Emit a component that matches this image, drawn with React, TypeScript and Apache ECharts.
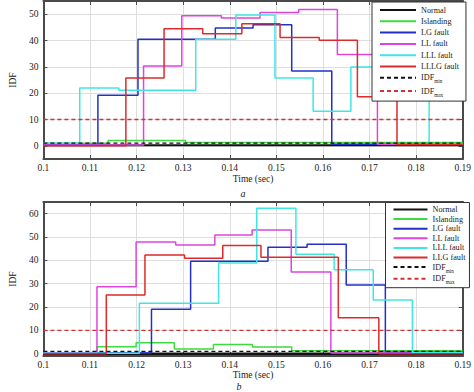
import React, { useEffect, useRef } from 'react';
import * as echarts from 'echarts';

const FONT = '"Liberation Serif", "Times New Roman", serif';

// x axis (time, s)
const X_MIN = 0.1;
const X_MAX = 0.19;
const X_STEP = 0.01;

// y tick labels
const yTicksA = [0, 10, 20, 30, 40, 50];
const yTicksB = [0, 10, 20, 30, 40, 50, 60];

// thresholds
const IDF_MIN = 1;
const IDF_MAX = 10;

// legend names
const namesA = ['Normal', 'Islanding', 'LG fault', 'LL fault', 'LLL fault', 'LLLG fault', 'IDFmin', 'IDFmax'];
const namesB = ['Normal', 'Islanding', 'LG fault', 'LL fault', 'LLL fault', 'LLG fault', 'IDFmin', 'IDFmax'];

// ---- chart a : step change times and values ----
const aNormalT = [0.1];
const aNormalV = [0.2];
const aIslandT = [0.1, 0.1139, 0.1305];
const aIslandV = [1.0, 2.0, 1.3];
const aLGT = [0.1, 0.1117, 0.1203, 0.1369, 0.145, 0.1533, 0.1619];
const aLGV = [0.3, 19.2, 40.5, 44.7, 46.0, 28.4, 0.6];
const aLLT = [0.1, 0.1215, 0.1297, 0.1382, 0.1465, 0.1548, 0.1631, 0.1717];
const aLLV = [0.3, 30.3, 49.4, 48.5, 50.6, 51.8, 34.7, 0.6];
const aLLLT = [0.1, 0.1078, 0.1162, 0.1327, 0.1413, 0.1497, 0.1579, 0.166, 0.1828];
const aLLLV = [1.0, 22.0, 21.1, 40.5, 49.7, 25.8, 13.1, 29.9, 0.6];
const aLLLGT = [0.1, 0.1177, 0.1259, 0.1342, 0.1426, 0.1508, 0.1592, 0.1674, 0.1759];
const aLLLGV = [0.0, 25.8, 44.5, 42.6, 46.4, 41.1, 40.1, 18.6, 0.4];

// ---- chart b ----
const bNormalT = [0.1];
const bNormalV = [0.0];
const bIslandT = [0.1, 0.1115, 0.1199, 0.1281, 0.1365, 0.1449, 0.1533];
const bIslandV = [0.3, 3.0, 4.7, 2.0, 3.9, 2.9, 1.3];
const bLGT = [0.1, 0.1232, 0.1316, 0.1482, 0.1566, 0.165, 0.1734];
const bLGV = [0.3, 19.0, 39.6, 45.6, 46.9, 29.4, 0.6];
const bLLT = [0.1, 0.1115, 0.1199, 0.1284, 0.1368, 0.1448, 0.1532, 0.1617];
const bLLV = [0.3, 28.7, 47.9, 46.6, 50.9, 53.0, 35.0, 0.3];
const bLLLT = [0.1, 0.1206, 0.1376, 0.1458, 0.1542, 0.1624, 0.1708, 0.1792];
const bLLLV = [0.2, 21.6, 38.9, 62.3, 42.6, 36.0, 23.0, 0.4];
const bLLGT = [0.1, 0.1135, 0.1218, 0.1303, 0.1385, 0.1467, 0.1633, 0.172];
const bLLGV = [0.0, 25.1, 42.3, 40.9, 46.4, 41.3, 15.4, 0.0];

const COLORS = {
  normal: '#111111',
  island: '#3ddc3d',
  lg: '#2230c8',
  ll: '#de45de',
  lll: '#40e6e6',
  lllg: '#dd2a2a',
  min: '#111111',
  max: '#cc3333',
};

function steps(times: number[], values: number[]) {
  const pts = times.map((t, i) => [t, values[i]]);
  pts.push([X_MAX, values[values.length - 1]]);
  return pts;
}

function stepSeries(name: string, times: number[], values: number[], color: string, idx: number, width = 1.5) {
  return {
    type: 'line',
    name,
    xAxisIndex: idx,
    yAxisIndex: idx,
    step: 'end',
    symbol: 'none',
    data: steps(times, values),
    lineStyle: { color, width },
    itemStyle: { color },
  };
}

function threshSeries(name: string, v: number, color: string, idx: number) {
  return {
    type: 'line',
    name,
    xAxisIndex: idx,
    yAxisIndex: idx,
    symbol: 'none',
    data: [[X_MIN, v], [X_MAX, v]],
    lineStyle: { color, width: 1.3, type: [4, 3] },
    itemStyle: { color },
    z: 3,
  };
}

const AXIS_COLOR = '#4a4a4a';

function xAxisDef(gridIndex: number, top: boolean, nameGap: number, labelMargin: number) {
  return {
    type: 'value',
    gridIndex,
    position: top ? 'top' : 'bottom',
    min: X_MIN,
    max: X_MAX,
    interval: X_STEP,
    name: top ? '' : 'Time (sec)',
    nameLocation: 'middle',
    nameGap,
    nameTextStyle: { fontFamily: FONT, fontSize: 9.5, color: '#222' },
    axisLine: { show: true, onZero: false, lineStyle: { color: AXIS_COLOR, width: 2 } },
    axisTick: { show: true, inside: true, length: 4, lineStyle: { color: AXIS_COLOR, width: 1 } },
    axisLabel: {
      show: !top,
      margin: labelMargin,
      fontFamily: FONT,
      fontSize: 9.5,
      color: '#222',
      formatter: (v: number) => String(parseFloat(v.toFixed(2))),
    },
    splitLine: { show: !top, lineStyle: { color: '#dedede', width: 1 } },
  };
}

function yAxisDef(gridIndex: number, right: boolean, min: number, max: number, ticks: number[]) {
  return {
    type: 'value',
    gridIndex,
    position: right ? 'right' : 'left',
    min,
    max,
    name: right ? '' : 'IDF',
    nameLocation: 'middle',
    nameGap: 20,
    nameRotate: 90,
    nameTextStyle: { fontFamily: FONT, fontSize: 9.5, color: '#222' },
    axisLine: { show: true, onZero: false, lineStyle: { color: AXIS_COLOR, width: 2 } },
    axisTick: { show: true, inside: true, length: 4, customValues: ticks, lineStyle: { color: AXIS_COLOR, width: 1 } },
    axisLabel: {
      show: !right,
      margin: 5,
      customValues: ticks,
      fontFamily: FONT,
      fontSize: 9.5,
      color: '#222',
    },
    splitLine: { show: !right, lineStyle: { color: '#dedede', width: 1 } },
  };
}

function legendDef(data: string[], left: number, top: number, itemWidth: number, itemGap: number, padding: number[]) {
  return {
    orient: 'vertical',
    left,
    top,
    data,
    itemWidth,
    itemHeight: 8,
    itemGap,
    padding,
    backgroundColor: '#ffffff',
    borderColor: '#333333',
    borderWidth: 1,
    borderRadius: 0,
    selectedMode: false,
    itemStyle: { color: 'rgba(0,0,0,0)', borderWidth: 0, opacity: 0 },
    textStyle: {
      fontFamily: FONT,
      fontSize: 8.2,
      color: '#222',
      rich: {
        m: { fontFamily: FONT, fontSize: 8.2, color: '#222', lineHeight: 12 },
        s: { fontFamily: FONT, fontSize: 5.2, color: '#222', lineHeight: 6, verticalAlign: 'bottom' },
      },
    },
    formatter: (name: string) =>
      name === 'IDFmin' ? '{m|IDF}{s|min}' : name === 'IDFmax' ? '{m|IDF}{s|max}' : name,
  };
}

export default function App() {
  const ref = useRef<HTMLDivElement>(null);
  useEffect(() => {
    if (!ref.current) return;
    const chart = echarts.init(ref.current, undefined, { renderer: 'svg' });
    chart.setOption({
      animation: false,
      backgroundColor: '#ffffff',
      grid: [
        { left: 27, right: 8, top: 1, height: 158 },
        { left: 27, right: 8, top: 202, height: 154 },
      ],
      xAxis: [
        xAxisDef(0, false, 15, 4),
        xAxisDef(1, false, 14, 3.5),
        xAxisDef(0, true, 0, 0),
        xAxisDef(1, true, 0, 0),
      ],
      yAxis: [
        yAxisDef(0, false, -5, 55, yTicksA),
        yAxisDef(1, false, -1, 65, yTicksB),
        yAxisDef(0, true, -5, 55, yTicksA),
        yAxisDef(1, true, -1, 65, yTicksB),
      ],
      legend: [
        legendDef(namesA, 372, 2, 36, 3.3, [4, 7, 4, 7]),
        legendDef(namesB, 385.5, 202.5, 34, 1.6, [3, 4, 3, 7]),
      ],
      graphic: [
        { type: 'text', x: 243, y: 193, style: { text: 'a', fontFamily: FONT, fontStyle: 'italic', fontSize: 10, fill: '#222', textAlign: 'center', textVerticalAlign: 'middle' } },
        { type: 'text', x: 239, y: 386, style: { text: 'b', fontFamily: FONT, fontStyle: 'italic', fontSize: 10, fill: '#222', textAlign: 'center', textVerticalAlign: 'middle' } },
      ],
      series: [
        stepSeries('Normal', aNormalT, aNormalV, COLORS.normal, 0, 2),
        stepSeries('Islanding', aIslandT, aIslandV, COLORS.island, 0),
        stepSeries('LG fault', aLGT, aLGV, COLORS.lg, 0),
        stepSeries('LL fault', aLLT, aLLV, COLORS.ll, 0),
        stepSeries('LLL fault', aLLLT, aLLLV, COLORS.lll, 0),
        stepSeries('LLLG fault', aLLLGT, aLLLGV, COLORS.lllg, 0),
        threshSeries('IDFmin', IDF_MIN, COLORS.min, 0),
        threshSeries('IDFmax', IDF_MAX, COLORS.max, 0),

        stepSeries('Normal', bNormalT, bNormalV, COLORS.normal, 1, 2.5),
        stepSeries('Islanding', bIslandT, bIslandV, COLORS.island, 1),
        stepSeries('LG fault', bLGT, bLGV, COLORS.lg, 1),
        stepSeries('LL fault', bLLT, bLLV, COLORS.ll, 1),
        stepSeries('LLL fault', bLLLT, bLLLV, COLORS.lll, 1),
        stepSeries('LLG fault', bLLGT, bLLGV, COLORS.lllg, 1),
        threshSeries('IDFmin', IDF_MIN, COLORS.min, 1),
        threshSeries('IDFmax', IDF_MAX, COLORS.max, 1),
      ],
    });
    return () => chart.dispose();
  }, []);
  return <div ref={ref} style={{ position: 'absolute', left: 0, top: 0, width: 474, height: 392 }} />;
}
